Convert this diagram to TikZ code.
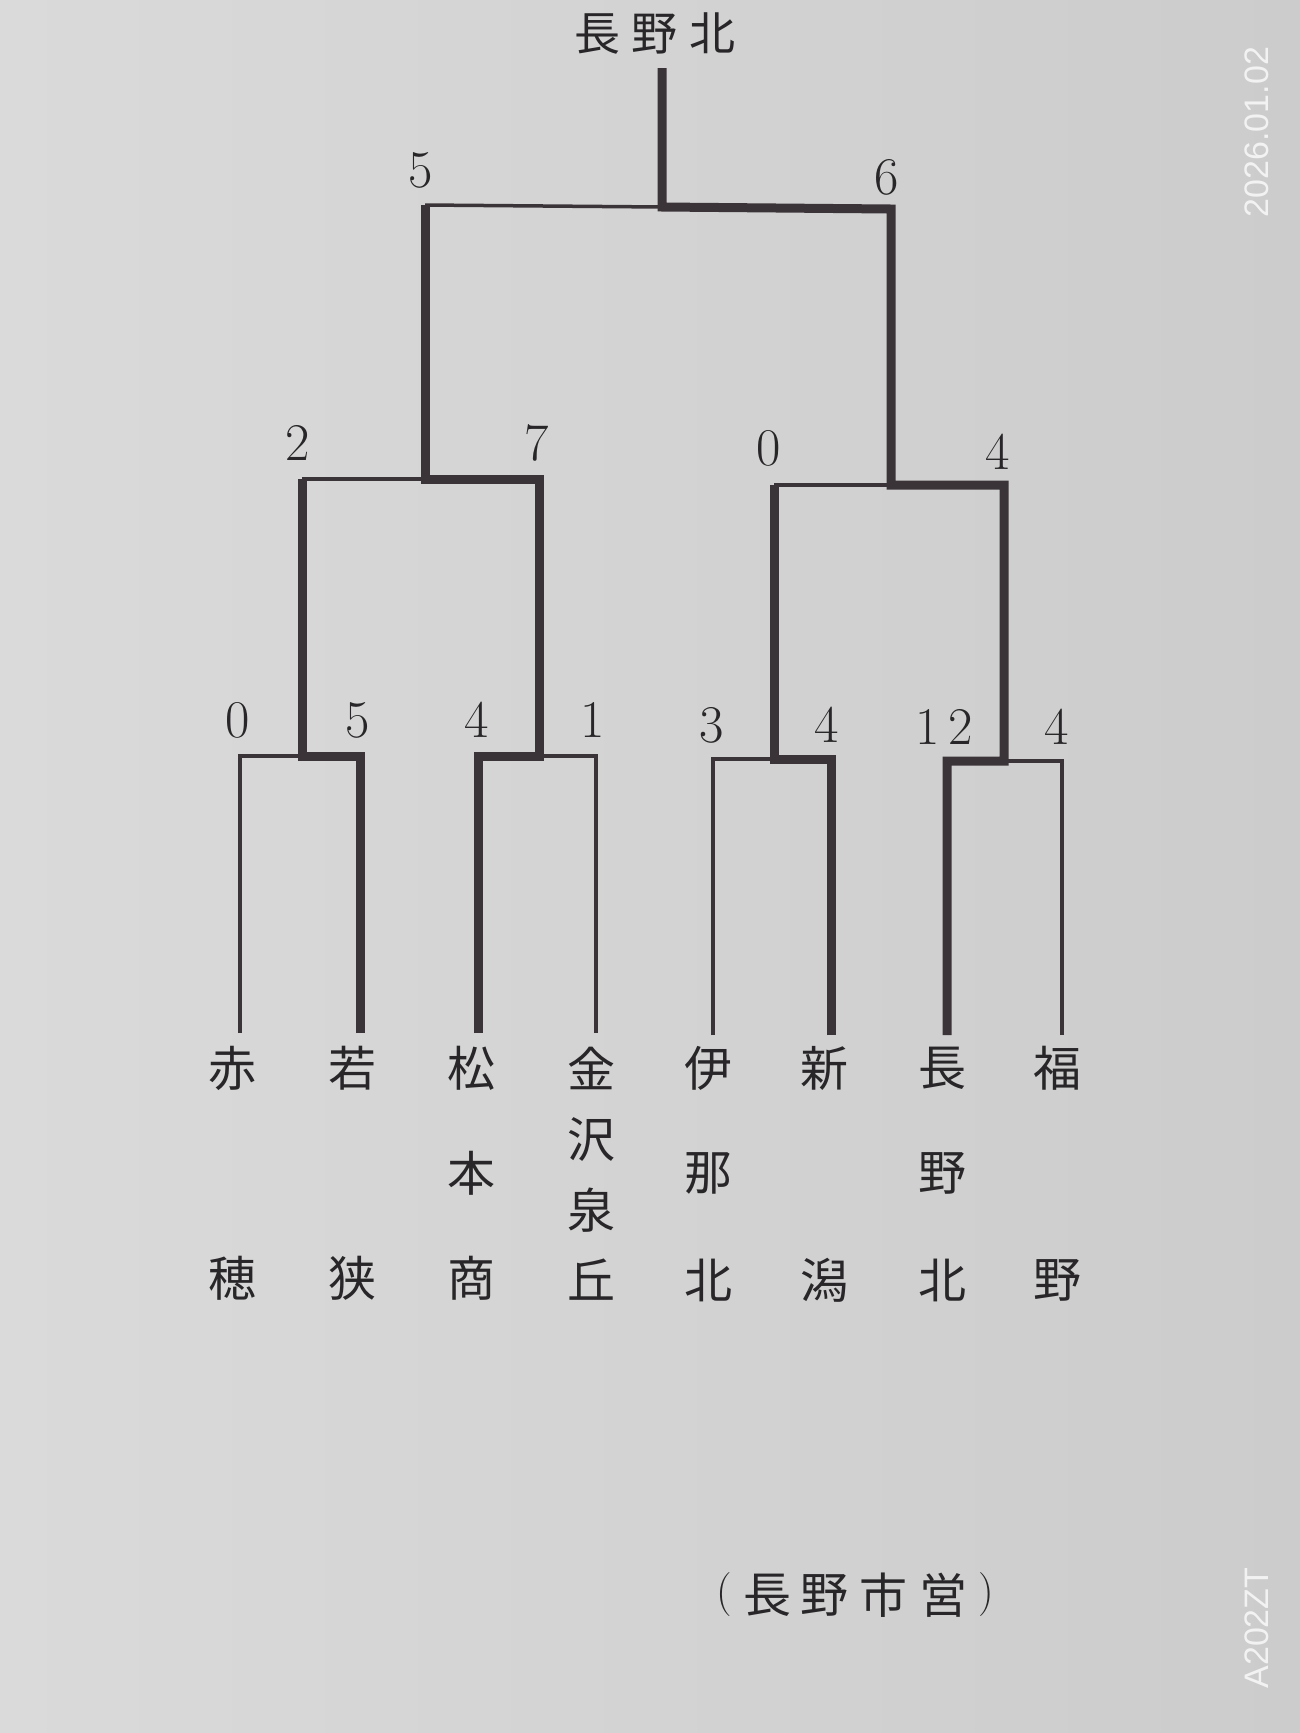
\documentclass[tikz,border=0pt]{standalone}
\usepackage{fontspec}
\newfontfamily\cjk{Noto Sans CJK JP}
\newfontfamily\wmfont{Liberation Sans}
\definecolor{bgA}{RGB}{218,218,218}
\definecolor{bgB}{RGB}{204,204,204}
\definecolor{ink}{RGB}{58,52,56}
\definecolor{txt}{RGB}{40,38,40}
\definecolor{wmc}{RGB}{242,242,242}
\begin{document}
\begin{tikzpicture}[x=1pt,y=-1pt,
  thinl/.style={draw=ink,line width=3.5pt,line join=miter},
  thickl/.style={draw=ink,line width=9pt,line join=miter},
  team/.style={inner sep=0pt,text=txt,font=\cjk\fontsize{48}{48}\selectfont},
  score/.style={inner sep=0pt,text=txt,font=\fontsize{53}{53}\selectfont},
  paren/.style={inner sep=0pt,text=txt,font=\fontsize{44}{44}\selectfont},
  wmark/.style={inner sep=0pt,text=wmc,font=\wmfont\fontsize{34}{34}\selectfont,rotate=90}]
\useasboundingbox (0,0) rectangle (1300,1733);
\shade[left color=bgA,right color=bgB] (0,0) rectangle (1300,1733);

% junction coordinates
\coordinate (e1) at (240,1033);
\coordinate (e2) at (360,1033);
\coordinate (e3) at (478,1033);
\coordinate (e4) at (596,1033);
\coordinate (e5) at (713,1035);
\coordinate (e6) at (831,1035);
\coordinate (e7) at (947,1035);
\coordinate (e8) at (1062,1035);
\coordinate (m1) at (302,756);
\coordinate (m2) at (539,756);
\coordinate (m3) at (774,759);
\coordinate (m4) at (1004,761);
\coordinate (j1) at (302,479);
\coordinate (j2) at (539,479);
\coordinate (s1) at (425,479);
\coordinate (j3) at (774,485);
\coordinate (j4) at (1004,485);
\coordinate (s2) at (891,485);
\coordinate (k1) at (425,205);
\coordinate (k2) at (891,209);
\coordinate (f) at (662,207);

% title and teams
\node[team,font=\cjk\fontsize{46}{46}\selectfont] (champ) at (655,33) {長\hspace{12pt}野\hspace{12pt}北};
\coordinate (top) at (662,68);

\node[team] (t1a) at (232,1068) {赤};
\node[team] (t1c) at (232,1278) {穂};
\node[team] (t2a) at (352,1068) {若};
\node[team] (t2c) at (352,1278) {狭};
\node[team] (t3a) at (471,1068) {松};
\node[team] (t3b) at (471,1173) {本};
\node[team] (t3c) at (471,1278) {商};
\node[team] (t4a) at (591,1068) {金};
\node[team] (t4b) at (591,1140) {沢};
\node[team] (t4c) at (591,1210) {泉};
\node[team] (t4d) at (591,1280) {丘};
\node[team] (t5a) at (708,1068) {伊};
\node[team] (t5b) at (708,1173) {那};
\node[team] (t5c) at (708,1280) {北};
\node[team] (t6a) at (824,1068) {新};
\node[team] (t6c) at (824,1280) {潟};
\node[team] (t7a) at (942,1068) {長};
\node[team] (t7b) at (942,1173) {野};
\node[team] (t7c) at (942,1280) {北};
\node[team] (t8a) at (1057,1068) {福};
\node[team] (t8c) at (1057,1280) {野};

% scores
\node[score] (r1a) at (238,720) {0};
\node[score] (r1b) at (358,720) {5};
\node[score] (r1c) at (477,720) {4};
\node[score] (r1d) at (593,720) {1};
\node[score] (r1e) at (712,725) {3};
\node[score] (r1f) at (827,725) {4};
\node[score] (r1g) at (944,727) {1\hspace{9pt}2};
\node[score] (r1h) at (1057,727) {4};
\node[score] (r2a) at (298,443) {2};
\node[score] (r2b) at (537,443) {7};
\node[score] (r2c) at (769,448) {0};
\node[score] (r2d) at (998,452) {4};
\node[score] (r3a) at (421,170) {5};
\node[score] (r3b) at (887,177) {6};

% bracket: thin lines
\draw[thinl] (e1) |- (m1);
\draw[thinl] (e4) |- (m2);
\draw[thinl] (e5) |- (m3);
\draw[thinl] (e8) |- (m4);
\draw[thinl] (j1) -- (s1);
\draw[thinl] (j3) -- (s2);
\draw[thinl] (k1) -- (f);
% bracket: thick lines (winners)
\draw[thickl] (e2) |- (m1) -- (j1);
\draw[thickl] (e3) |- (m2) -- (j2) -- (s1) -- (k1);
\draw[thickl] (e6) |- (m3) -- (j3);
\draw[thickl] (e7) |- (m4) -- (j4) -- (s2) -- (k2) -- (f) -- (top);

% venue
\node[paren] (po) at (724,1595) {(};
\node[team] (v1) at (767,1595) {長};
\node[team] (v2) at (824,1595) {野};
\node[team] (v3) at (883,1595) {市};
\node[team] (v4) at (943,1595) {営};
\node[paren] (pc) at (986,1595) {)};

% photo watermark
\node[wmark] (date) at (1257,132) {2026.01.02};
\node[wmark] (model) at (1257,1628) {A202ZT};
\end{tikzpicture}
\end{document}
